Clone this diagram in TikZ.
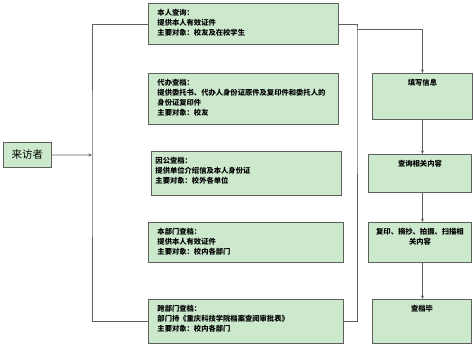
\documentclass[tikz,border=0pt]{standalone}
\usepackage{fontspec}
\newfontfamily\cjk{Noto Sans CJK SC}
\usetikzlibrary{arrows.meta, positioning}
\definecolor{boxgreen}{RGB}{204,232,205}
\definecolor{edgegray}{RGB}{95,95,95}
\newcommand{\boxtext}[3]{\parbox[c][#2][t]{#1}{\raggedright #3}}
\newcommand{\midtext}[3]{\parbox[c][#2][t]{#1}{\centering #3}}

\begin{document}
\begin{tikzpicture}[x=1pt, y=-1pt,
  infobox/.style={draw=edgegray, line width=0.9pt, fill=boxgreen, anchor=north west,
                  inner sep=0pt, font=\cjk\bfseries\fontsize{7.3}{10}\selectfont},
  visitor/.style={draw=edgegray, line width=0.9pt, fill=boxgreen, anchor=north west,
                  inner sep=0pt, minimum width=48pt, minimum height=25pt,
                  font=\cjk\fontsize{10.5}{12}\selectfont},
  link/.style={draw=edgegray, line width=0.8pt},
  arr/.style={link, -{Stealth[length=3.5pt, width=3pt]}},
]
  \useasboundingbox (0,0) rectangle (474,345);

  \node[visitor] (guest) at (3,142) {来访者};

  % ways of consulting the archives
  \node[infobox, minimum width=190pt, minimum height=41pt] (self) at (148,3)
    {\boxtext{172pt}{29pt}{本人查询：\\提供本人有效证件\\主要对象：校友及在校学生}};
  \node[infobox, minimum width=190pt, minimum height=51pt] (proxy) at (148,73)
    {\boxtext{172pt}{39pt}{代办查档：\\提供委托书、代办人身份证原件及复印件和委托人的\\身份证复印件\\主要对象：校友}};
  \node[infobox, minimum width=190pt, minimum height=44pt] (official) at (151,151)
    {\boxtext{182pt}{32pt}{因公查档：\\提供单位介绍信及本人身份证\\主要对象：校外各单位}};
  \node[infobox, minimum width=195pt, minimum height=40pt] (dept) at (148,222)
    {\boxtext{177pt}{28pt}{本部门查档：\\提供本人有效证件\\主要对象：校内各部门}};
  \node[infobox, minimum width=195pt, minimum height=44pt] (crossdept) at (148,299)
    {\boxtext{177pt}{32pt}{跨部门查档：\\部门持《重庆科技学院档案查阅审批表》\\主要对象：校内各部门}};

  % procedure
  \node[infobox, minimum width=100pt, minimum height=46pt] (fill) at (372,73)
    {\midtext{96pt}{34pt}{填写信息}};
  \node[infobox, minimum width=103pt, minimum height=38pt] (query) at (368,154)
    {\midtext{99pt}{26pt}{查询相关内容}};
  \node[infobox, minimum width=103pt, minimum height=40pt] (copy) at (368,222)
    {\midtext{96pt}{28pt}{复印、摘抄、拍摄、扫描相\\关内容}};
  \node[infobox, minimum width=99pt, minimum height=44pt] (finish) at (372,299)
    {\midtext{95pt}{32pt}{查档毕}};

  \coordinate (split) at (92,155);
  \coordinate (merge) at (357,29);

  \draw[arr] (guest.east) -- (split);
  \draw[link] (self.west) -| (split) |- (crossdept.west);
  \draw[link] (self.east) -| (merge) |- (crossdept.east);
  \draw[arr] (merge) -| (fill.north);
  \draw[arr] (fill.south) -- (fill.south |- query.north);
  \draw[arr] (fill.south |- query.south) -- (fill.south |- copy.north);
  \draw[arr] (fill.south |- copy.south) -- (fill.south |- finish.north);

\end{tikzpicture}
\end{document}
